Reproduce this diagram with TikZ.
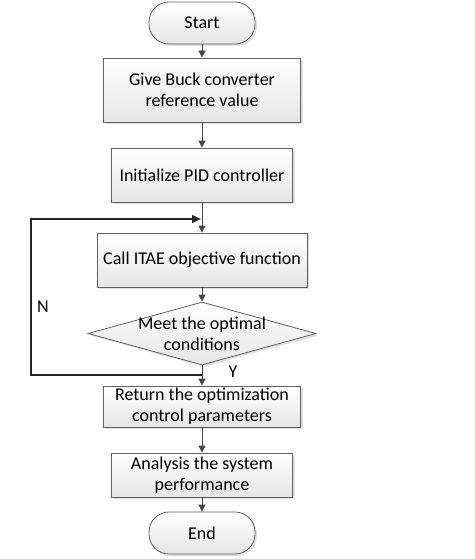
\documentclass[tikz,border=0pt]{standalone}
\usepackage{fontspec}
\setmainfont{Carlito}
\usetikzlibrary{shapes.geometric,arrows.meta,shadows}
\begin{document}
\begin{tikzpicture}[x=1pt,y=1pt,
  box/.style={draw=gray!75!black, line width=0.8pt, top color=white, bottom color=gray!20,
    drop shadow={shadow xshift=2pt, shadow yshift=-2pt, fill=gray!40, opacity=0.6},
    inner sep=0pt, align=center, font=\fontsize{18}{21}\selectfont, text=black},
  term/.style={box, rounded corners=20pt},
  arr/.style={-{Triangle[length=7pt,width=7pt]}, draw=gray!55!black, line width=0.8pt},
  loopline/.style={-{Triangle[length=9pt,width=8pt]}, draw=gray!30!black, line width=1.4pt},
  lbl/.style={font=\fontsize{18}{21}\selectfont, text=black, inner sep=0pt}
]
\useasboundingbox (0,0) rectangle (474,-559);

\node[term, minimum width=106, minimum height=42] (start) at (202,-23) {Start};
\node[box, minimum width=197, minimum height=64] (b1) at (202,-90) {Give Buck converter\\reference value};
\node[box, minimum width=181, minimum height=54] (b2) at (202,-175) {Initialize PID controller};
\node[box, minimum width=210, minimum height=54] (b3) at (202,-260) {Call ITAE objective function};
\node[diamond, draw=gray!75!black, line width=0.8pt, top color=white, bottom color=gray!20,
    drop shadow={shadow xshift=2pt, shadow yshift=-2pt, fill=gray!40, opacity=0.6},
    minimum width=228, minimum height=63, inner sep=0pt] (d) at (202,-333.5) {};
\node[lbl, align=center] (dt) at (d.center) {Meet the optimal\\conditions};
\node[box, minimum width=197, minimum height=41] (b4) at (202,-406.5) {Return the optimization\\control parameters};
\node[box, minimum width=181, minimum height=44] (b5) at (202,-475) {Analysis the system\\performance};
\node[term, minimum width=106, minimum height=42] (end) at (202,-533) {End};

\coordinate (yb) at (202,-375);
\coordinate (c1) at (31,-375);
\coordinate (c2) at (31,-219);
\coordinate (j) at (201,-219);

\draw[arr] (start) -- (b1);
\draw[arr] (b1) -- (b2);
\draw[arr] (b2) -- (b3);
\draw[arr] (b3) -- (d);
\draw[arr] (d.south) -- (b4);
\draw[arr] (b4) -- (b5);
\draw[arr] (b5) -- (end);
\draw[loopline] (yb) -- (c1) -- (c2) -- (j);

\node[lbl] (n) at (43,-307) {N};
\node[lbl] (y) at (233,-372) {Y};
\end{tikzpicture}
\end{document}
